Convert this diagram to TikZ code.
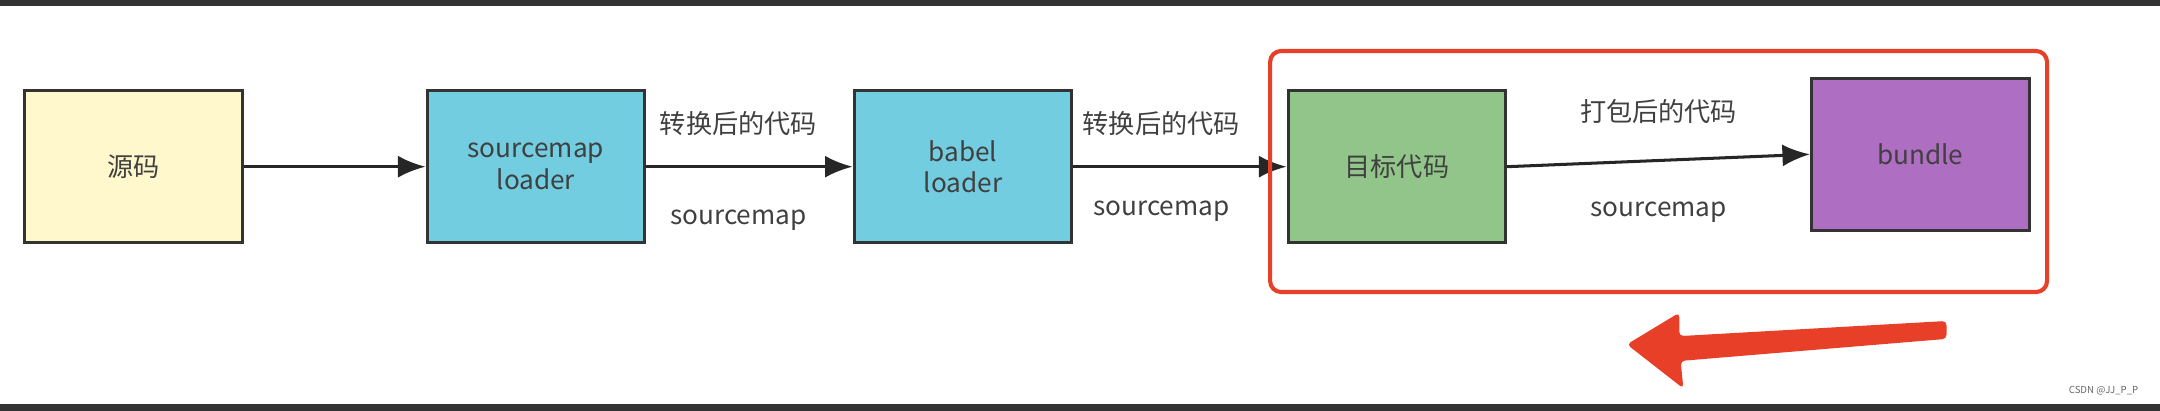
\documentclass[tikz,border=0pt]{standalone}
\usepackage{fontspec}
\setmainfont{Noto Sans CJK SC}
\usetikzlibrary{arrows.meta}
\definecolor{cyel}{RGB}{255,248,204}
\definecolor{cblu}{RGB}{114,205,224}
\definecolor{cgrn}{RGB}{146,197,137}
\definecolor{cpur}{RGB}{174,110,194}
\definecolor{cred}{RGB}{232,64,40}
\begin{document}
\begin{tikzpicture}[x=1pt,y=-1pt,
  box/.style={draw=black!80,line width=2.2pt,minimum width=158pt,minimum height=110pt,inner sep=0pt,align=center,font=\fontsize{19}{23}\selectfont,text=black!75},
  lbl/.style={font=\fontsize{19}{23}\selectfont,text=black!75},
  conn/.style={draw=black!85,line width=2.2pt,-{Latex[length=20pt,width=16pt]}}]
\useasboundingbox (0,0) rectangle (1568,298);
\fill[black!80] (0,0) rectangle (1568,4);
\fill[black!80] (0,293) rectangle (1568,298);
\node[box,fill=cyel] (src) at (97,121) {源码};
\node[box,fill=cblu] (sml) at (389,121) {sourcemap\\loader};
\node[box,fill=cblu] (bl) at (699,121) {babel\\loader};
\node[box,fill=cgrn] (tgt) at (1014,121) {目标代码};
\node[box,fill=cpur] (bun) at (1394,112) {bundle};
\draw[conn] (src.east) -- (sml.west);
\draw[conn] (sml.east) -- (bl.west);
\draw[conn] (bl.east) -- (tgt.west);
\draw[conn] (tgt.east) -- (bun.west);
\node[lbl] (l1) at (536,90) {转换后的代码};
\node[lbl] (s1) at (536,160) {sourcemap};
\node[lbl] (l2) at (843,90) {转换后的代码};
\node[lbl] (s2) at (843,153) {sourcemap};
\node[lbl] (l3) at (1204,81) {打包后的代码};
\node[lbl] (s3) at (1204,154) {sourcemap};
\draw[draw=cred,line width=3pt,rounded corners=8pt] (922,37) rectangle (1486,212);
\fill[cred,rounded corners=3pt] (1413,233) -- (1413,246) -- (1220,262) -- (1222,282) -- (1181,250) -- (1219,227) -- (1219,244) -- cycle;
\node[font=\fontsize{7}{8}\selectfont,text=black!60] (wm) at (1527,284) {CSDN @JJ\_P\_P};
\end{tikzpicture}
\end{document}
